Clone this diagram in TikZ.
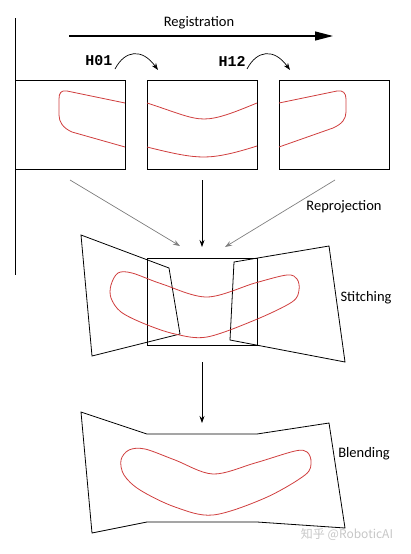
\documentclass[tikz,border=0pt]{standalone}
\usepackage{fontspec}
\setmainfont{Carlito}
\newfontfamily\codefont{Liberation Mono}
\newfontfamily\cjkfont{Noto Sans CJK SC}
\usepackage{xcolor}
\usepackage{tikz}
\usetikzlibrary{arrows.meta}
\definecolor{seam}{RGB}{208,62,62}
\tikzset{
  frame/.style={draw, line width=0.8pt, minimum width=110pt, minimum height=89pt, inner sep=0pt},
  outline/.style={seam, line width=0.8pt},
  label/.style={font=\fontsize{14.5}{17}\selectfont},
  hom/.style={font=\codefont\bfseries\fontsize{15}{17}\selectfont},
  proj/.style={-{Stealth[length=7pt,width=5pt]}, line width=0.7pt}
}

\begin{document}
\begin{tikzpicture}[x=1pt,y=-1pt]
  \useasboundingbox (0,0) rectangle (411,554);
  % Axis
  \draw[line width=0.8pt] (15,18) -- (15,275);
  % Registration
  \coordinate (regA) at (69,36);
  \coordinate (regB) at (333,36);
  \draw[line width=1.2pt, -{Triangle[length=18pt,width=9pt]}] (regA) -- (regB);
  \node[label] (reg) at (199,23) {Registration};
  % Input images
  \node[frame] (img0) at (70,124.5) {};
  \node[frame] (img1) at (202,124.5) {};
  \node[frame] (img2) at (334,124.5) {};
  \draw[outline] (125,103) -- (67,91) .. controls (61,90) and (59,93) .. (59,99)
    -- (59,115) .. controls (59,122) and (63,128) .. (72,132) -- (125,147);
  \draw[outline] (147,103) .. controls (175,112) and (190,119) .. (204,119)
    .. controls (218,119) and (235,112) .. (257,103);
  \draw[outline] (147,147) .. controls (175,154) and (190,157) .. (204,157)
    .. controls (218,157) and (235,153) .. (257,146);
  \draw[outline] (279,103) -- (337,91) .. controls (343,90) and (346,93) .. (346,99)
    -- (346,112) .. controls (346,119) and (342,124) .. (333,128) -- (279,147);
  % Homographies
  \node[hom] (h01) at (99,61) {H01};
  \node[hom] (h12) at (232,61) {H12};
  \coordinate (h01a) at (115,69);
  \coordinate (h01b) at (158,70);
  \coordinate (h12a) at (247,69);
  \coordinate (h12b) at (290,70);
  \draw[proj] (h01a) .. controls (125,50) and (142,48) .. (h01b);
  \draw[proj] (h12a) .. controls (257,50) and (274,48) .. (h12b);
  % Reprojection
  \node[frame, minimum height=87pt] (pano) at (202,301.5) {};
  \coordinate (p0) at (70,180);
  \coordinate (p1) at (202,180);
  \coordinate (p2) at (335,180);
  \coordinate (q0) at (180,246);
  \coordinate (q1) at (202,247);
  \coordinate (q2) at (225,247);
  \draw[proj, gray] (p0) -- (q0);
  \draw[proj] (p1) -- (q1);
  \draw[proj, gray] (p2) -- (q2);
  \node[label] (reproj) at (344,207) {Reprojection};
  % Stitching
  \draw[line width=0.8pt] (81,235) -- (169,268) -- (180,334) -- (92,356) -- cycle;
  \draw[line width=0.8pt] (234,262) -- (329,246) -- (345,362) -- (230,340) -- cycle;
  \draw[outline] plot[smooth cycle, tension=0.55] coordinates {
    (111,285) (118,273) (132,273) (162,284) (207,297) (255,283) (287,275)
    (297,279) (299,290) (292,302) (255,320) (207,337) (175,334) (145,324)
    (121,312) (111,298)};
  \node[label] (stitch) at (366,298) {Stitching};
  % Blending
  \coordinate (b0) at (202,362);
  \coordinate (b1) at (202,423);
  \draw[proj] (b0) -- (b1);
  \draw[line width=0.8pt] (81,412) -- (147,434) -- (257,434) -- (329,423)
    -- (345,528) -- (257,522) -- (147,522) -- (92,533) -- cycle;
  \draw[outline] plot[smooth cycle, tension=0.55] coordinates {
    (121,460) (129,450) (145,449) (175,460) (213,474) (255,463) (295,451)
    (307,452) (311,462) (305,475) (265,498) (213,515) (175,507) (140,490)
    (124,475)};
  \node[label] (blend) at (364,454) {Blending};
  % Watermark
  \node[text=gray!45, font=\cjkfont\fontsize{12}{14}\selectfont] (mark) at (347,534) {知乎 @RoboticAI};
\end{tikzpicture}
\end{document}
